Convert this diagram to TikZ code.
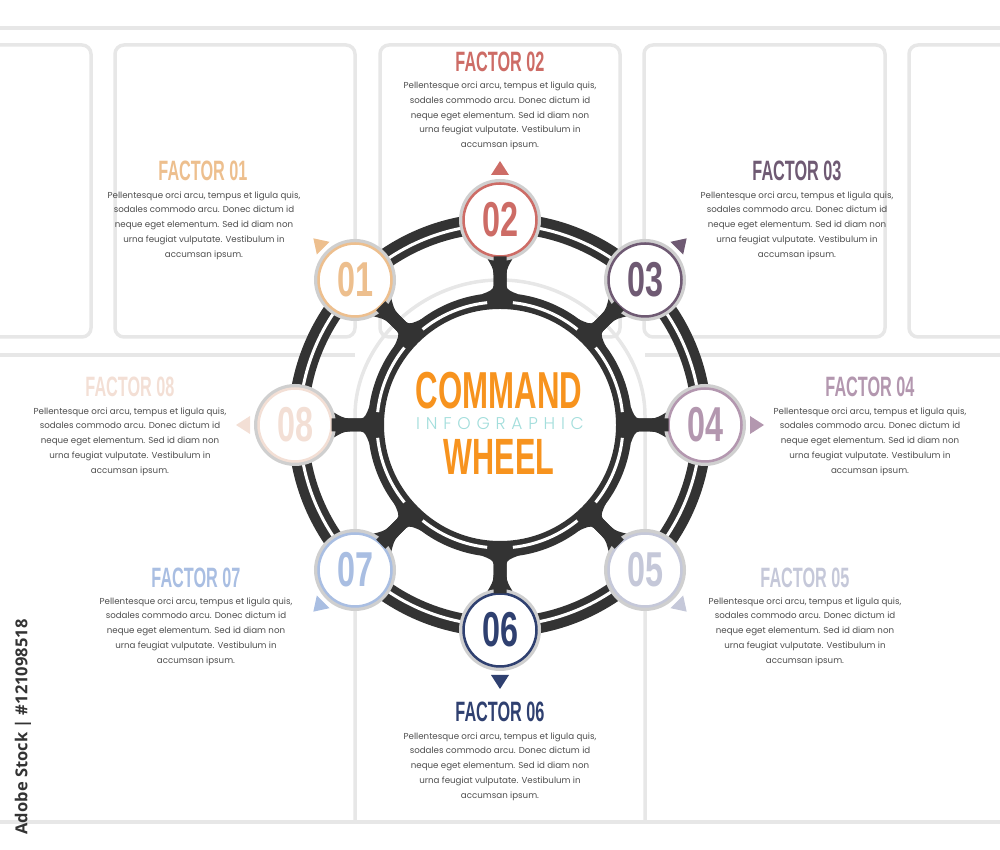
\documentclass[tikz,border=0pt]{standalone}
\usepackage{fontspec}
\setmainfont{Poppins}
\newfontfamily\factorfont[FakeStretch=0.58]{Liberation Sans Bold}
\newfontfamily\numberfont[FakeStretch=0.66]{Liberation Sans Bold}
\newfontfamily\wheelfont[FakeStretch=0.6]{Liberation Sans Bold}
\newfontfamily\infofont[LetterSpace=34]{Poppins Light}
\newfontfamily\stockfont{Open Sans}
\definecolor{panelgray}{HTML}{E7E7E7}
\definecolor{ringdark}{HTML}{333333}
\definecolor{halogray}{HTML}{CFCFCF}
\definecolor{bodygray}{HTML}{4D4D4D}
\definecolor{wheelorange}{HTML}{F7931E}
\definecolor{infoteal}{HTML}{A3DEDC}
\definecolor{fac01}{HTML}{EDBF8E}
\definecolor{fac02}{HTML}{CD6C66}
\definecolor{fac03}{HTML}{6F5A73}
\definecolor{fac04}{HTML}{B397AF}
\definecolor{fac05}{HTML}{C5C8D9}
\definecolor{fac06}{HTML}{2F4070}
\definecolor{fac07}{HTML}{A9BEE2}
\definecolor{fac08}{HTML}{F3DFD5}
\newcommand{\factorbody}{Pellentesque orci arcu, tempus et ligula quis,\\sodales commodo arcu. Donec dictum id\\neque eget elementum. Sed id diam non\\urna feugiat vulputate. Vestibulum in\\accumsan ipsum.}
\tikzset{
    panel/.style={draw=panelgray, line width=3.5, rounded corners=9},
    numdisc/.style={circle, draw=#1, text=#1, fill=white, line width=2.5, inner sep=0, outer sep=0, minimum size=73,
        preaction={draw=halogray, line width=9}, font=\numberfont\fontsize{49}{49}\selectfont},
    factortitle/.style={text=#1, inner sep=0, font=\factorfont\fontsize{28}{28}\selectfont},
    factortext/.style={text=bodygray, inner sep=0, align=center, font=\fontsize{8.68}{14.8}\selectfont},
    spokeline/.style={draw=ringdark, line width=13},
    spoke/.pic={
        \fill[ringdark] (167,13) .. controls (160,9) and (157,6.5) .. (150,6.5) -- (139,6.5) .. controls (135,6.5) and (133,12) .. (130.5,19)
            -- (130.5,-19) .. controls (133,-12) and (135,-6.5) .. (139,-6.5) -- (150,-6.5) .. controls (157,-6.5) and (160,-9) .. (167,-13) -- cycle;
        \draw[white, line width=3] (6:123) arc (6:39:123);
    },
    pointer/.pic={\path[pic actions] (250,-9) -- (264,0) -- (250,9) -- cycle;}
}
\begin{document}
\begin{tikzpicture}[x=1pt, y=1pt]
            \useasboundingbox (0,0) rectangle (1000,850);
            \coordinate (wheel) at (500,425);
            \draw[panel] (0,822) -- (1000,822);
            \draw[panel] (-20,513) rectangle (91,805);
            \draw[panel] (115,513) rectangle (355,805);
            \draw[panel] (380,513) rectangle (620,805);
            \draw[panel] (644,513) rectangle (885,805);
            \draw[panel] (909,513) rectangle (1020,805);
            \draw[panel] (0,495) -- (355,495) (645,495) -- (1000,495);
            \draw[panel] (355,28) -- (355,425) arc (180:0:145) -- (645,28);
            \draw[panel] (0,28) -- (1000,28);
            \node[circle, draw=ringdark, line width=20, inner sep=0, outer sep=0, minimum size=404] (rim) at (wheel) {};
            \draw[white, line width=3] (wheel) circle (200.5);
            \node[circle, draw=ringdark, fill=white, line width=16, inner sep=0, outer sep=0, minimum size=248] (hub) at (wheel) {};
            \pic[rotate=0] at (wheel) {spoke};
            \pic[rotate=45] at (wheel) {spoke};
            \pic[rotate=90] at (wheel) {spoke};
            \pic[rotate=135] at (wheel) {spoke};
            \pic[rotate=180] at (wheel) {spoke};
            \pic[rotate=225] at (wheel) {spoke};
            \pic[rotate=270] at (wheel) {spoke};
            \pic[rotate=315] at (wheel) {spoke};
            \node[numdisc=fac01] (n01) at (355,570) {01};
            \node[numdisc=fac02] (n02) at (500,630) {02};
            \node[numdisc=fac03] (n03) at (645,570) {03};
            \node[numdisc=fac04] (n04) at (705,425) {04};
            \node[numdisc=fac05] (n05) at (645,280) {05};
            \node[numdisc=fac06] (n06) at (500,220) {06};
            \node[numdisc=fac07] (n07) at (355,280) {07};
            \node[numdisc=fac08] (n08) at (295,425) {08};
            \path[spokeline] (hub) -- (n01) (hub) -- (n02) (hub) -- (n03) (hub) -- (n04);
            \path[spokeline] (hub) -- (n05) (hub) -- (n06) (hub) -- (n07) (hub) -- (n08);
            \pic[rotate=135, fill=fac01] at (wheel) {pointer};
            \pic[rotate=90, fill=fac02] at (wheel) {pointer};
            \pic[rotate=45, fill=fac03] at (wheel) {pointer};
            \pic[rotate=0, fill=fac04] at (wheel) {pointer};
            \pic[rotate=315, fill=fac05] at (wheel) {pointer};
            \pic[rotate=270, fill=fac06] at (wheel) {pointer};
            \pic[rotate=225, fill=fac07] at (wheel) {pointer};
            \pic[rotate=180, fill=fac08] at (wheel) {pointer};
            \node[text=wheelorange, inner sep=0, font=\wheelfont\fontsize{52}{52}\selectfont] (command) at (499,459) {COMMAND};
            \node[text=infoteal, inner sep=0, font=\infofont\fontsize{17}{17}\selectfont] (info) at (500,426) {INFOGRAPHIC};
            \node[text=wheelorange, inner sep=0, font=\wheelfont\fontsize{51}{51}\selectfont] (bottom) at (499,393) {WHEEL};
            \node[factortitle=fac01] (t01) at (203,679) {FACTOR 01};
            \node[factortitle=fac02] (t02) at (500,788) {FACTOR 02};
            \node[factortitle=fac03] (t03) at (797,679) {FACTOR 03};
            \node[factortitle=fac04] (t04) at (870,463) {FACTOR 04};
            \node[factortitle=fac05] (t05) at (805,272) {FACTOR 05};
            \node[factortitle=fac06] (t06) at (500,138) {FACTOR 06};
            \node[factortitle=fac07] (t07) at (196,272) {FACTOR 07};
            \node[factortitle=fac08] (t08) at (130,463) {FACTOR 08};
            \node[factortext] (b01) at (204,624.5) {\factorbody};
            \node[factortext] (b02) at (500,734) {\factorbody};
            \node[factortext] (b03) at (797,624.5) {\factorbody};
            \node[factortext] (b04) at (870,408.5) {\factorbody};
            \node[factortext] (b05) at (805,218.5) {\factorbody};
            \node[factortext] (b06) at (500,83.5) {\factorbody};
            \node[factortext] (b07) at (196,218.5) {\factorbody};
            \node[factortext] (b08) at (130,408.5) {\factorbody};
            \node[rotate=90, text=ringdark, inner sep=0, font=\stockfont\bfseries\fontsize{16.5}{16.5}\selectfont] (stock) at (23,123) {Adobe Stock | \#121098518};
        \end{tikzpicture}
\end{document}
